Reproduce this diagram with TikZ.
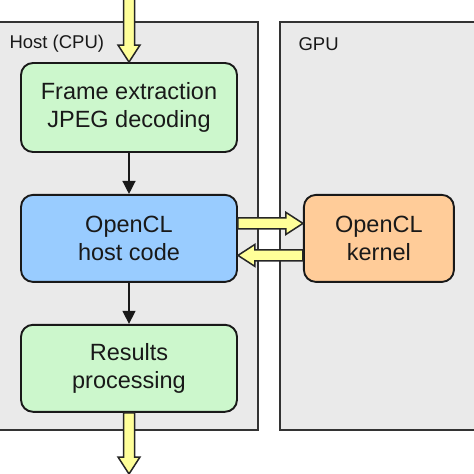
\documentclass[tikz,border=0pt]{standalone}
\usepackage{fontspec}
\setmainfont{Liberation Sans}
\usetikzlibrary{positioning,calc,arrows.meta}

\definecolor{panelgray}{RGB}{234,234,234}
\definecolor{stepgreen}{RGB}{204,247,204}
\definecolor{hostblue}{RGB}{153,204,255}
\definecolor{kernelorange}{RGB}{255,204,153}
\definecolor{flowyellow}{RGB}{255,255,153}

\tikzset{
  panel/.style={rectangle, draw=black!80, line width=1.4pt, fill=panelgray, inner sep=0pt},
  stepbox/.style={rectangle, rounded corners=12pt, draw=black!90, line width=1.9pt,
    minimum width=216pt, minimum height=87pt, align=center, text=black!90,
    font=\fontsize{23.5}{28}\selectfont},
  panellabel/.style={anchor=west, text=black!90, font=\fontsize{18.5}{22}\selectfont},
  fat/.style={draw=black!85, fill=flowyellow, line width=1.5pt, line join=miter}
}

% wide yellow arrow from #1 to #2
\newcommand{\fatarrow}[2]{%
  \coordinate (fa-c) at ($(#2)!17pt!(#1)$);
  \draw[fat] ($(#1)!5.5pt!90:(#2)$) -- ($(fa-c)!5.5pt!90:(#2)$) -- ($(fa-c)!11pt!90:(#2)$)
    -- (#2) -- ($(fa-c)!11pt!-90:(#2)$) -- ($(fa-c)!5.5pt!-90:(#2)$) -- ($(#1)!5.5pt!-90:(#2)$) -- cycle;}

\begin{document}
\begin{tikzpicture}[x=1pt,y=-1pt,>={Triangle[length=13pt,width=13pt]},node distance=41pt]
  \useasboundingbox (0,0) rectangle (474,474);

  \node[panel, minimum width=259pt, minimum height=408pt] (host) at (128.5,226) {};
  \node[panel, minimum width=198pt, minimum height=408pt] (gpu)  at (379,226) {};
  \node[panellabel] (hostlbl) at (6,44)   {Host (CPU)};
  \node[panellabel] (gpulbl)  at (295,44) {GPU};

  \node[stepbox, fill=stepgreen, minimum height=89pt] (frame) at (129,107.5) {Frame extraction\\JPEG decoding};
  \node[stepbox, fill=hostblue]     (hostcode) [below=of frame]    {OpenCL\\host code};
  \node[stepbox, fill=stepgreen]    (results)  [below=of hostcode] {Results\\processing};
  \node[stepbox, fill=kernelorange, minimum width=150pt] (kernel) [right=65pt of hostcode] {OpenCL\\kernel};

  \path[->, line width=1.3pt, black!90]
        (frame) edge (hostcode)
        (hostcode) edge (results);

  \coordinate (src)  at (129,-3);
  \coordinate (sink) at (129,474);
  \coordinate (send-a) at ($(hostcode.east)+(0,-15)$);
  \coordinate (send-b) at ($(kernel.west)+(0,-15)$);
  \coordinate (back-a) at ($(kernel.west)+(0,17)$);
  \coordinate (back-b) at ($(hostcode.east)+(0,17)$);

  \fatarrow{src}{frame.north}
  \fatarrow{results.south}{sink}
  \fatarrow{send-a}{send-b}
  \fatarrow{back-a}{back-b}
\end{tikzpicture}
\end{document}
